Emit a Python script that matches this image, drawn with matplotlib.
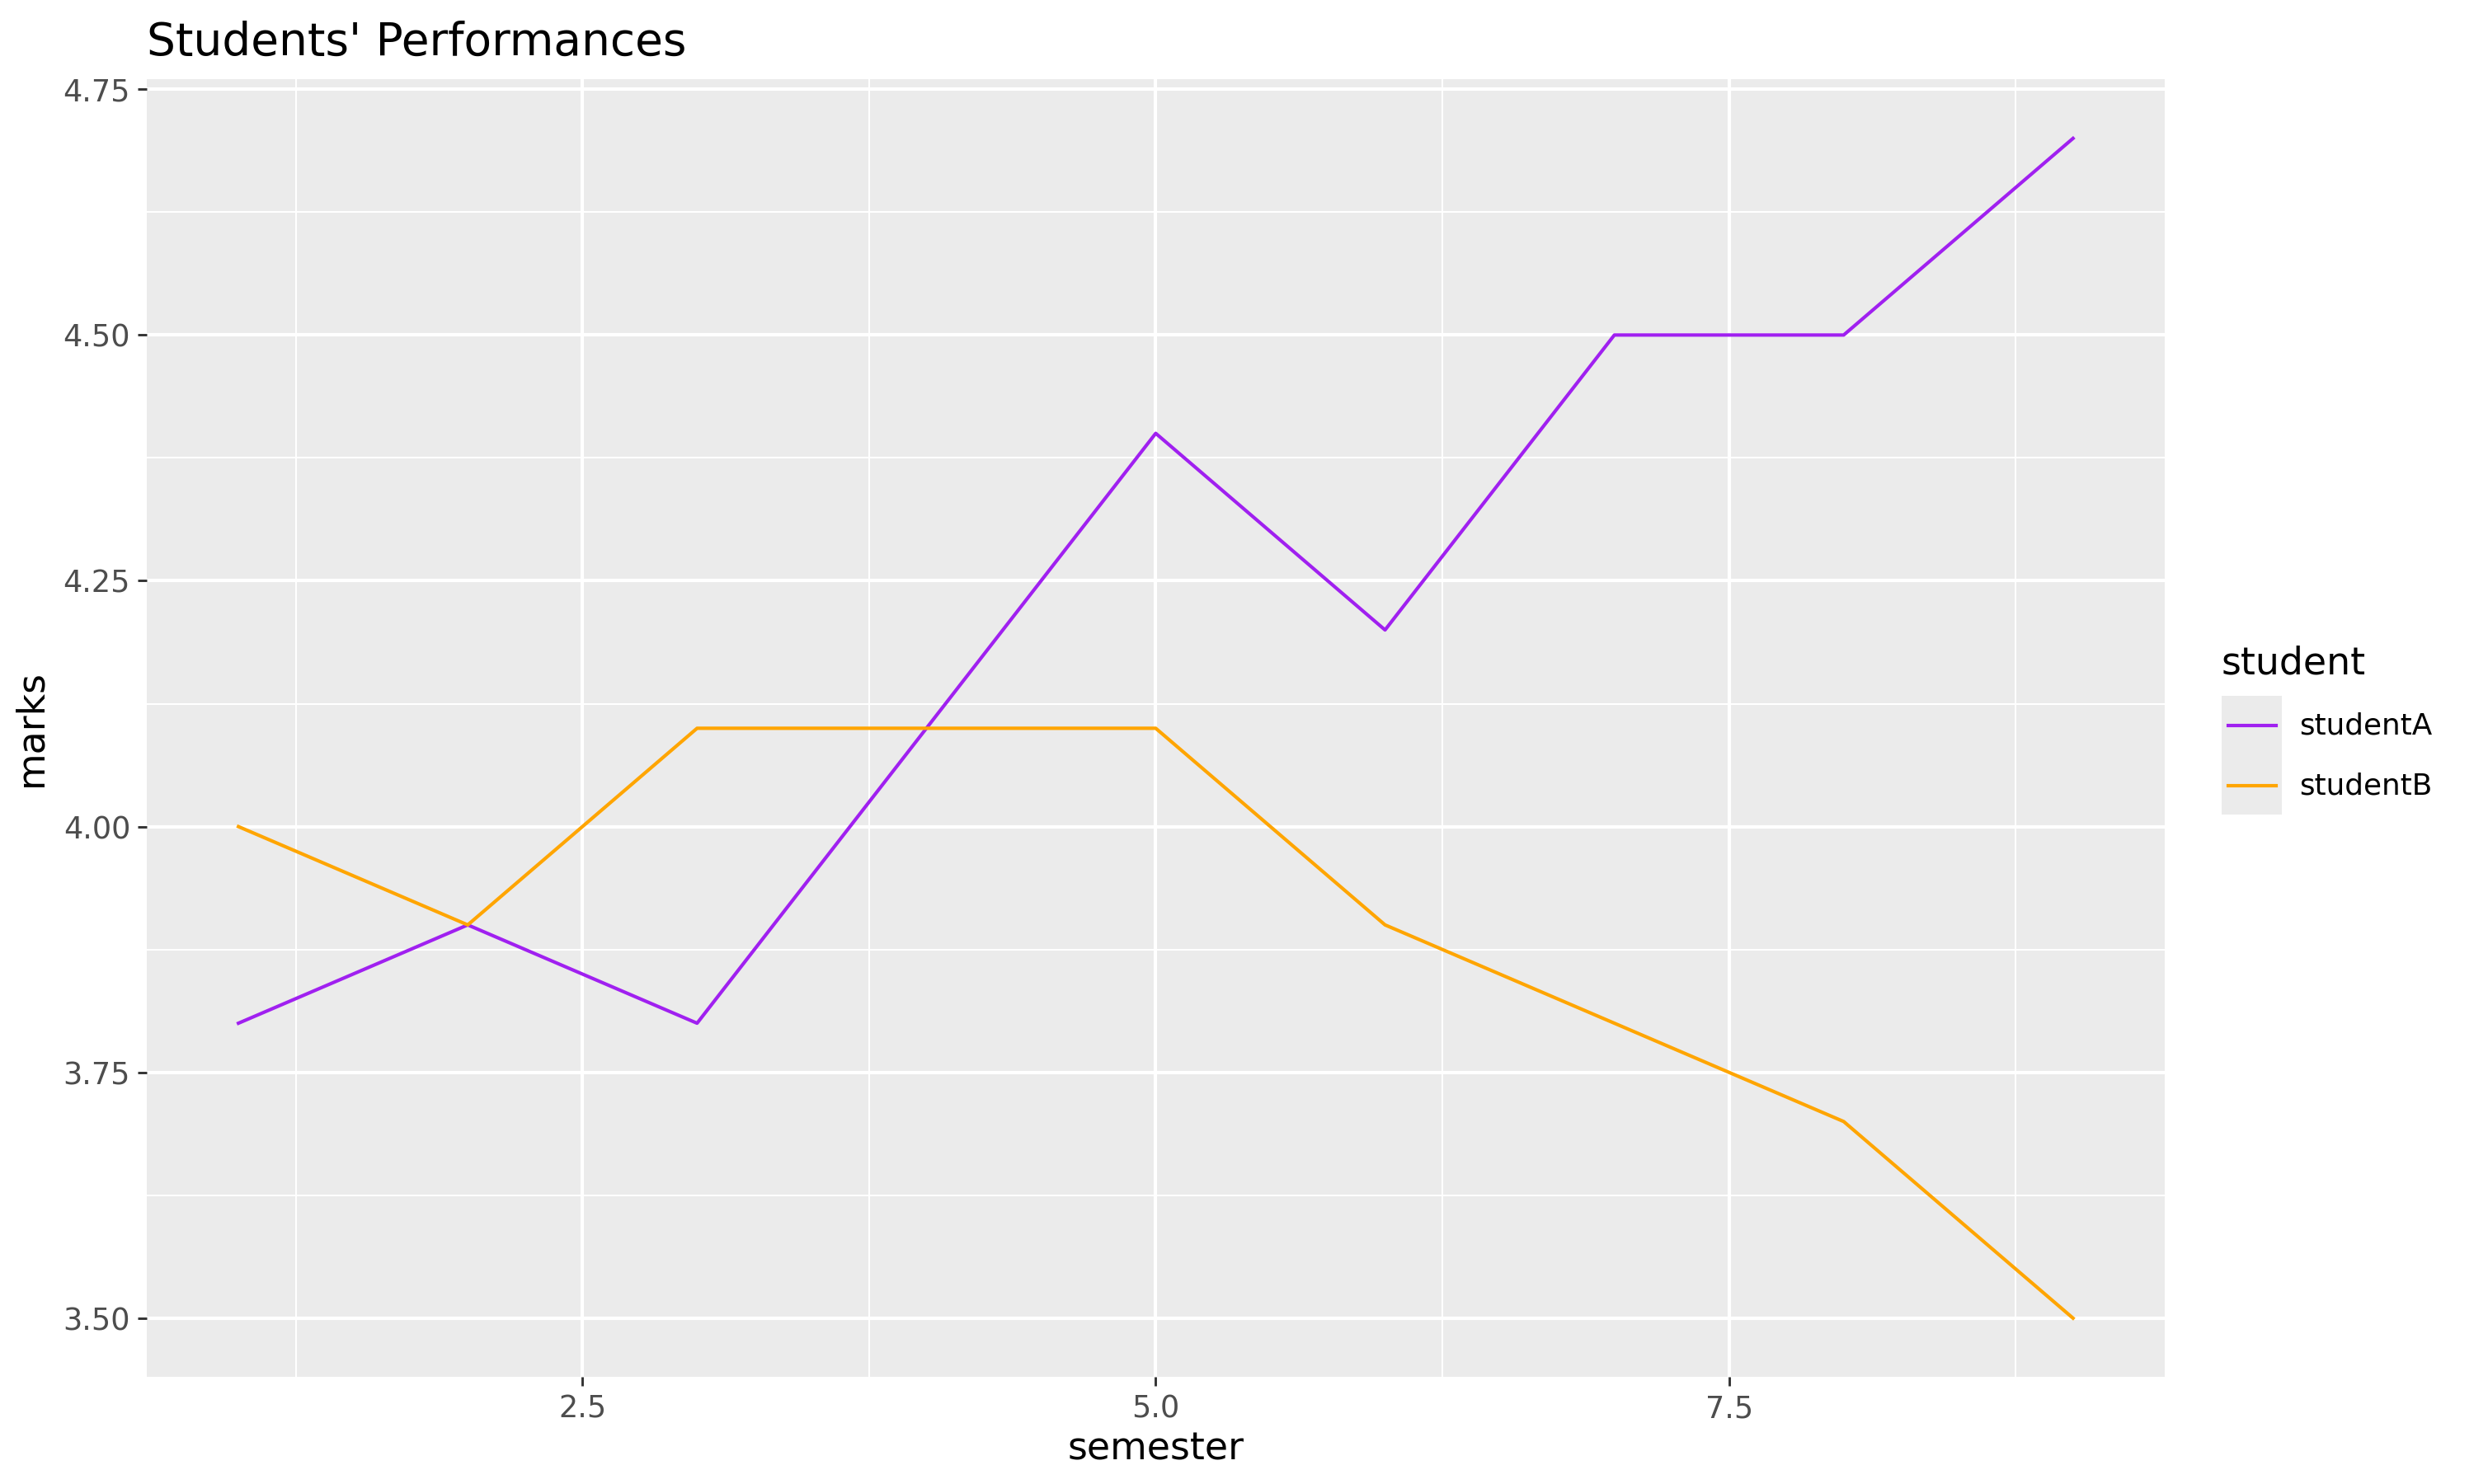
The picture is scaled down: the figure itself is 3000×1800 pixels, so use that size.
import matplotlib
matplotlib.use("Agg")
import matplotlib.pyplot as plt
from matplotlib.lines import Line2D
from matplotlib.patches import Rectangle
from matplotlib.ticker import MultipleLocator

semester = [1, 2, 3, 4, 5, 6, 7, 8, 9]
student_a = [3.8, 3.9, 3.8, 4.1, 4.4, 4.2, 4.5, 4.5, 4.7]
student_b = [4.0, 3.9, 4.1, 4.1, 4.1, 3.9, 3.8, 3.7, 3.5]
students = ["studentA", "studentB"]
colors = ["#A020F0", "#FFA500"]

plt.rcParams["font.family"] = ["DejaVu Sans"]

fig = plt.figure(figsize=(10, 6), dpi=300)
ax = fig.add_axes([0.0593, 0.072, 0.8157, 0.8745])
ax.set_facecolor("#EBEBEB")
for s in ax.spines.values():
    s.set_visible(False)

ax.plot(semester, student_a, color=colors[0], lw=1.0, zorder=3)
ax.plot(semester, student_b, color=colors[1], lw=1.0, zorder=3)

ax.set_xlim(0.6, 9.4)
ax.set_ylim(3.44, 4.76)
ax.xaxis.set_major_locator(MultipleLocator(2.5))
ax.xaxis.set_minor_locator(MultipleLocator(1.25))
ax.yaxis.set_major_locator(MultipleLocator(0.25))
ax.yaxis.set_minor_locator(MultipleLocator(0.125))
ax.xaxis.set_major_formatter(lambda v, p: f"{v:.1f}")
ax.yaxis.set_major_formatter(lambda v, p: f"{v:.2f}")
ax.grid(which="major", color="white", lw=1.0)
ax.grid(which="minor", color="white", lw=0.5)
ax.set_axisbelow(True)
ax.tick_params(which="major", length=2.75, width=0.7, color="#333333",
               labelsize=8.8, labelcolor="#4D4D4D", pad=2)
ax.tick_params(which="minor", length=0)

ax.set_xlabel("semester", fontsize=11, labelpad=2)
ax.set_ylabel("marks", fontsize=11, labelpad=4)
ax.set_title("Students' Performances", fontsize=13.2, loc="left", pad=7)

# legend
fig.text(0.898, 0.553, "student", fontsize=11, va="center", ha="left")
fig.patches.append(Rectangle((0.898, 0.451), 0.0243, 0.08, transform=fig.transFigure,
                             facecolor="#EBEBEB", edgecolor="none"))
for i, (name, c) in enumerate(zip(students, colors)):
    y = 0.511 - i * 0.0405
    fig.add_artist(Line2D([0.9005, 0.920], [y, y], transform=fig.transFigure, color=c, lw=1.0))
    fig.text(0.9295, y, name, fontsize=8.6, va="center", ha="left")

fig.savefig("out.png", dpi=300)
